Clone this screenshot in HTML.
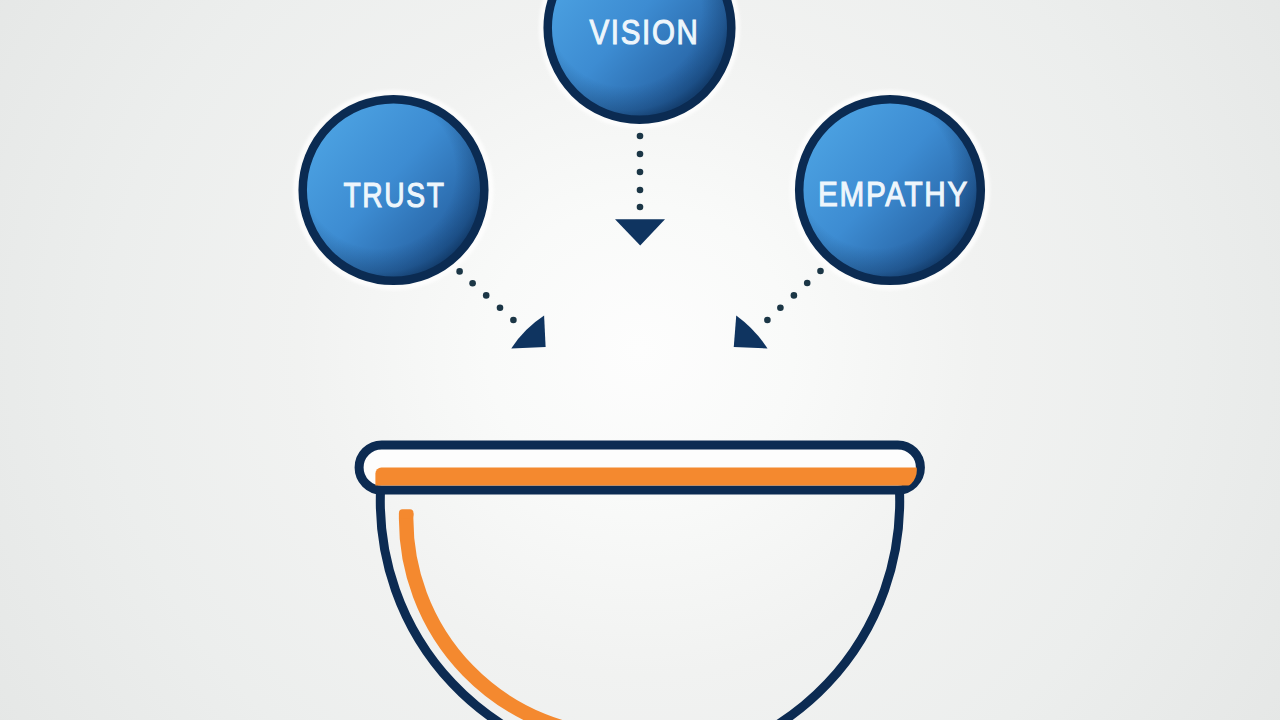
<!DOCTYPE html>
<html><head><meta charset="utf-8">
<style>
html,body{margin:0;padding:0;width:1280px;height:720px;overflow:hidden;background:#eeefee;}
svg{display:block;}
text{font-family:"Liberation Sans",sans-serif;}
</style></head>
<body>
<svg width="1280" height="720" viewBox="0 0 1280 720">
<defs>
  <radialGradient id="bg" cx="640" cy="350" r="760" gradientUnits="userSpaceOnUse" gradientTransform="translate(640 350) scale(1 0.95) translate(-640 -350)">
    <stop offset="0" stop-color="#fdfdfd"/>
    <stop offset="0.2" stop-color="#f9faf9"/>
    <stop offset="0.45" stop-color="#f1f2f1"/>
    <stop offset="0.7" stop-color="#eceeed"/>
    <stop offset="1" stop-color="#e5e7e6"/>
  </radialGradient>
  <linearGradient id="ball" x1="0.1" y1="0.15" x2="0.9" y2="0.85">
    <stop offset="0" stop-color="#4ca2e2"/>
    <stop offset="0.45" stop-color="#3d8cd2"/>
    <stop offset="0.8" stop-color="#2b6bad"/>
    <stop offset="1" stop-color="#1d5592"/>
  </linearGradient>
  <radialGradient id="inshade" cx="0.42" cy="0.4" r="0.6">
    <stop offset="0.7" stop-color="#0b2b52" stop-opacity="0"/>
    <stop offset="0.92" stop-color="#0b2b52" stop-opacity="0.32"/>
    <stop offset="1" stop-color="#0b2b52" stop-opacity="0.6"/>
  </radialGradient>
  <filter id="halo" x="-20%" y="-20%" width="140%" height="140%"><feGaussianBlur stdDeviation="1.5"/></filter>
</defs>
<rect width="1280" height="720" fill="url(#bg)"/>

<!-- circles -->
<g fill="none" stroke="#ffffff" stroke-width="5" opacity="0.8" filter="url(#halo)">
  <circle cx="639.5" cy="28" r="98"/>
  <circle cx="393.5" cy="190" r="97.5"/>
  <circle cx="890" cy="190" r="97.5"/>
</g>
<g fill="url(#ball)">
  <circle cx="639.5" cy="28" r="91"/>
  <circle cx="393.5" cy="190" r="91"/>
  <circle cx="890" cy="190" r="91"/>
</g>
<g fill="url(#inshade)">
  <circle cx="639.5" cy="28" r="91"/>
  <circle cx="393.5" cy="190" r="91"/>
  <circle cx="890" cy="190" r="91"/>
</g>
<g fill="none" stroke="#0b2b52" stroke-width="8.5">
  <circle cx="639.5" cy="28" r="91.8"/>
  <circle cx="393.5" cy="190" r="90.8"/>
  <circle cx="890" cy="190" r="90.8"/>
</g>
<g fill="#eef6fc" stroke="#eef6fc" stroke-width="1.1" font-size="35.5" letter-spacing="2">
  <text x="589.5" y="44.2" textLength="110" lengthAdjust="spacingAndGlyphs">VISION</text>
  <text x="343.5" y="206.7" textLength="102" lengthAdjust="spacingAndGlyphs">TRUST</text>
  <text x="818" y="206.1" textLength="151" lengthAdjust="spacingAndGlyphs">EMPATHY</text>
</g>

<!-- dots -->
<g fill="#1b3646">
  <circle cx="640" cy="136" r="3.3"/>
  <circle cx="640" cy="154" r="3.3"/>
  <circle cx="640" cy="172" r="3.3"/>
  <circle cx="640" cy="190" r="3.3"/>
  <circle cx="640" cy="207" r="3.3"/>

  <circle cx="459.6" cy="271.4" r="3.3"/>
  <circle cx="472.6" cy="283.2" r="3.3"/>
  <circle cx="486.2" cy="295.4" r="3.3"/>
  <circle cx="500" cy="307.8" r="3.3"/>
  <circle cx="513.4" cy="320" r="3.3"/>

  <circle cx="820.5" cy="271" r="3.3"/>
  <circle cx="807.2" cy="283" r="3.3"/>
  <circle cx="793.9" cy="295.4" r="3.3"/>
  <circle cx="780.4" cy="307.8" r="3.3"/>
  <circle cx="767.4" cy="320" r="3.3"/>
</g>
<g fill="#0f3460">
  <path d="M615 219.3 L665 219.3 L640.2 245.5 Z"/>
  <path d="M544.1 315.6 L545.6 346.9 L511.25 348.4 Q524.3 328.6 544.1 315.6 Z"/>
  <path d="M736.25 315.6 L733.75 346.9 L767.5 348.4 Q754.8 329.2 736.25 315.6 Z"/>
</g>

<!-- bowl -->
<defs>
  <clipPath id="innerpill"><path d="M382 449.5 L898 449.5 A20.3 20.3 0 0 1 898 490 L382 490 A20.3 20.3 0 0 1 382 449.5 Z"/></clipPath>
</defs>
<path d="M380.54 490 A259.7 263.3 0 1 0 899.46 490" fill="none" stroke="#0c2b52" stroke-width="9"/>
<path d="M406.2 513 A218 218 0 0 0 624 736.5" fill="none" stroke="#f4892f" stroke-width="14.5"/>
<rect x="398.95" y="509.2" width="14.5" height="9" rx="3.5" fill="#f4892f"/>
<rect x="359.1" y="444.9" width="561.3" height="45.2" rx="22.6" fill="#fdfdfd" stroke="#0c2b52" stroke-width="9"/>
<g clip-path="url(#innerpill)">
  <path d="M381.4 467.5 L940 467.5 L940 485.6 L375.4 485.6 L375.4 473.5 A6 6 0 0 1 381.4 467.5 Z" fill="#f4892f"/>
</g>
</svg>
</body></html>
